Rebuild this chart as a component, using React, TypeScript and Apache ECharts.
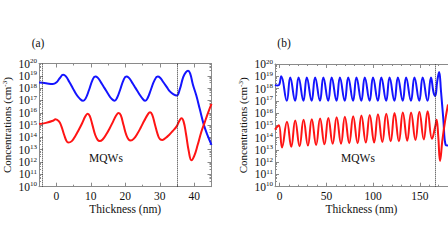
import React, { useEffect, useRef } from "react";
import * as echarts from "echarts";

// ---- Panel (a): thickness (nm) and log10 of concentration (cm^-3)
const leftBlueX = [-5, -3, -1, 0, 1, 2, 2.8, 3.8, 4.8, 5.8, 6.8, 7.8, 8.5, 9.5, 10.5, 11.3, 12, 13, 14, 15, 16, 16.9, 17.6, 18.5, 19.5, 20.3, 21, 22, 23, 24, 25, 25.8, 26.5, 27.4, 28.5, 29.4, 30.1, 31, 32, 33, 34, 34.9, 35.8, 36.8, 37.6, 38.2, 38.8, 39.6, 40.6, 41.6, 42.7, 43.8, 45];
const leftBlueExp = [18.45, 18.4, 18.33, 18.45, 18.8, 19.08, 18.95, 18.5, 18.0, 17.5, 17.15, 16.97, 17.15, 17.85, 18.65, 18.94, 18.85, 18.45, 18.0, 17.55, 17.15, 16.97, 17.2, 17.85, 18.65, 18.94, 18.85, 18.45, 18.0, 17.55, 17.15, 16.97, 17.2, 17.85, 18.65, 18.94, 18.85, 18.5, 18.1, 17.72, 17.5, 17.4, 17.9, 18.9, 19.3, 19.42, 19.2, 18.3, 17.4, 16.3, 15.1, 14.2, 13.4];
const leftRedX = [-5, -3, -1, -0.2, 0.8, 1.5, 2.3, 3.0, 3.5, 4.5, 5.5, 6.5, 7.5, 8.4, 9.1, 9.7, 10.5, 11.3, 12.0, 12.6, 13.5, 14.5, 15.5, 16.5, 17.4, 18.1, 18.7, 19.5, 20.3, 21.0, 21.6, 22.5, 23.5, 24.5, 25.5, 26.5, 27.2, 27.8, 28.6, 29.4, 30.1, 30.8, 31.7, 32.7, 33.7, 34.9, 35.7, 36.3, 36.9, 37.6, 38.4, 39.2, 40.0, 41.0, 42.0, 43.0, 44.0, 45.0];
const leftRedExp = [15.08, 15.18, 15.35, 15.48, 15.3, 14.9, 14.2, 13.7, 13.58, 13.7, 14.1, 14.6, 15.15, 15.7, 15.93, 15.75, 15.0, 14.2, 13.8, 13.7, 13.85, 14.25, 14.75, 15.3, 15.8, 15.98, 15.8, 15.0, 14.2, 13.82, 13.75, 13.9, 14.3, 14.8, 15.35, 15.85, 16.05, 15.85, 15.05, 14.25, 13.85, 13.8, 13.95, 14.2, 14.5, 14.9, 15.35, 15.55, 15.3, 14.3, 12.9, 12.15, 12.5, 13.4, 14.4, 15.2, 16.0, 16.72];
const leftDotted = [-4, 35];

// ---- Panel (b)
const rightBlueX = [-5, -2.5, -0.5, 1.7, 7.6, 11.3, 16.5, 20.2, 25.4, 29.0, 34.2, 37.9, 43.1, 46.7, 51.9, 55.6, 60.8, 64.4, 69.6, 73.3, 78.5, 82.1, 87.3, 91.0, 96.2, 99.8, 105.0, 108.7, 113.9, 117.5, 122.7, 126.4, 131.6, 135.2, 140.4, 144.1, 149.3, 152.9, 158.1, 161.8, 164.5, 166.3, 168.5, 170.5, 172.5, 175.0, 177.5, 180.0];
const rightBlueExp = [18.3, 18.25, 18.3, 19.0, 17.0, 18.9, 17.0, 18.9, 17.0, 18.9, 17.0, 18.9, 17.0, 18.9, 17.0, 18.9, 17.0, 18.9, 17.0, 18.9, 17.0, 18.9, 17.0, 18.9, 17.0, 18.9, 17.0, 18.9, 17.0, 18.9, 17.0, 18.9, 17.0, 18.9, 17.0, 18.9, 17.0, 18.9, 17.0, 18.9, 17.7, 17.4, 18.6, 19.35, 17.8, 15.5, 13.4, 13.35];
const rightRedX = [-5, -3, -0.8, 2.5, 7.8, 12.4, 16.6, 21.3, 25.5, 30.2, 34.3, 39.0, 43.2, 47.9, 52.0, 56.7, 60.9, 65.6, 69.7, 74.4, 78.6, 83.3, 87.4, 92.1, 96.3, 101.0, 105.1, 109.8, 114.0, 118.7, 122.8, 127.5, 131.7, 136.4, 140.5, 145.2, 149.4, 154.1, 158.2, 162.9, 166.3, 167.8, 169.5, 171.5, 174.0, 177.0, 180.0];
const rightRedExp = [14.65, 14.85, 15.0, 13.2, 15.3, 13.25, 15.4, 13.3, 15.45, 13.35, 15.5, 13.4, 15.55, 13.45, 15.6, 13.5, 15.65, 13.5, 15.7, 13.55, 15.75, 13.55, 15.8, 13.6, 15.85, 13.6, 15.9, 13.65, 15.95, 13.7, 16.0, 13.7, 16.05, 13.75, 16.05, 13.8, 16.1, 13.85, 16.15, 13.9, 14.9, 15.45, 14.2, 12.1, 13.8, 15.4, 16.7];
const rightDotted = [166.3];

const leftMajor = [0, 10, 20, 30, 40];
const leftMinor = [-5, 5, 15, 25, 35, 45];
const rightMajor = [0, 50, 100, 150];
const rightMinor = [10, 20, 30, 40, 60, 70, 80, 90, 110, 120, 130, 140, 160, 170];

const panelLabels = ["(a)", "(b)"];
const regionLabel = "MQWs";
const xName = "Thickness (nm)";

const FONT = "Liberation Serif";
const FRAME = "#8a8a8a";
const TEXT = "#111111";
const BLUE = "#1414ff";
const RED = "#ff1414";

const toPairs = (xs: number[], es: number[]) => xs.map((x, i) => [x, Math.pow(10, es[i])]);

function xAxes(gridIndex: number, min: number, max: number, major: number[], minor: number[]) {
  const base = {
    type: "value" as const,
    gridIndex,
    min,
    max,
    splitLine: { show: false },
  };
  return [
    {
      ...base,
      position: "bottom",
      axisLine: { show: true, onZero: false, lineStyle: { color: FRAME, width: 1 } },
      axisTick: { show: true, inside: true, length: 4, customValues: major, lineStyle: { color: FRAME } },
      axisLabel: { show: true, customValues: major, margin: 3, fontSize: 11.5, fontFamily: FONT, color: TEXT },
      name: xName,
      nameLocation: "middle",
      nameGap: 16,
      nameTextStyle: { fontSize: 11.5, fontFamily: FONT, color: TEXT },
    },
    {
      ...base,
      position: "bottom",
      axisLine: { show: false, onZero: false },
      axisTick: { show: true, inside: true, length: 2, customValues: minor, lineStyle: { color: FRAME } },
      axisLabel: { show: false },
    },
    {
      ...base,
      position: "top",
      axisLine: { show: true, onZero: false, lineStyle: { color: FRAME, width: 1 } },
      axisTick: { show: true, inside: true, length: 4, customValues: major, lineStyle: { color: FRAME } },
      axisLabel: { show: false },
    },
    {
      ...base,
      position: "top",
      axisLine: { show: false, onZero: false },
      axisTick: { show: true, inside: true, length: 2, customValues: minor, lineStyle: { color: FRAME } },
      axisLabel: { show: false },
    },
  ];
}

function yAxes(gridIndex: number, showRight: boolean) {
  const base = {
    type: "log" as const,
    logBase: 10,
    gridIndex,
    min: 1e10,
    max: 1e20,
    interval: 1,
    splitLine: { show: false },
    minorTick: { show: true, splitNumber: 5, length: 2, lineStyle: { color: FRAME } },
  };
  return [
    {
      ...base,
      position: "left",
      axisLine: { show: true, onZero: false, lineStyle: { color: FRAME, width: 1 } },
      axisTick: { show: true, inside: true, length: 4, lineStyle: { color: FRAME } },
      axisLabel: {
        show: true,
        showMinLabel: true,
        showMaxLabel: true,
        hideOverlap: false,
        margin: 2,
        formatter: (v: number) => `{b|10}{s|${Math.round(Math.log10(v))}}`,
        rich: {
          b: { fontSize: 11.5, fontFamily: FONT, color: TEXT, lineHeight: 12, verticalAlign: "bottom" },
          s: { fontSize: 7, fontFamily: FONT, color: TEXT, lineHeight: 7, verticalAlign: "top" },
        },
      },
      name: "Concentrations (cm{s|-3})",
      nameLocation: "middle",
      nameGap: 27,
      nameRotate: 90,
      nameTextStyle: {
        fontSize: 11,
        fontFamily: FONT,
        color: TEXT,
        rich: {
          s: { fontSize: 7, fontFamily: FONT, color: TEXT, verticalAlign: "top", lineHeight: 7 },
        },
      },
    },
    {
      ...base,
      show: showRight,
      position: "right",
      axisLine: { show: true, onZero: false, lineStyle: { color: FRAME, width: 1 } },
      axisTick: { show: true, inside: true, length: 4, lineStyle: { color: FRAME } },
      axisLabel: { show: false },
    },
  ];
}

function lineSeries(name: string, data: number[][], color: string, xAxisIndex: number, yAxisIndex: number, dotted?: number[]) {
  return {
    name,
    type: "line",
    xAxisIndex,
    yAxisIndex,
    data,
    smooth: 0.45,
    showSymbol: false,
    symbol: "none",
    lineStyle: { color, width: 2 },
    clip: true,
    markLine: dotted
      ? {
          silent: true,
          symbol: "none",
          label: { show: false },
          lineStyle: { type: "dotted", color: "#333", width: 1 },
          data: dotted.map((x) => ({ xAxis: x })),
        }
      : undefined,
  };
}

export default function App() {
  const ref = useRef<HTMLDivElement>(null);
  useEffect(() => {
    if (!ref.current) return;
    const chart = echarts.init(ref.current, undefined, { renderer: "svg" });
    const textStyle = (text: string, x: number, y: number) => ({
      type: "text",
      x,
      y,
      style: { text, fontFamily: FONT, fontSize: 11.5, fill: TEXT, align: "center", verticalAlign: "middle" },
    });
    const option = {
      animation: false,
      backgroundColor: "#ffffff",
      grid: [
        { left: 37, top: 63.5, width: 174.5, height: 123.2 },
        { left: 275, top: 64, width: 174, height: 122.7 },
      ],
      xAxis: [...xAxes(0, -5, 45, leftMajor, leftMinor), ...xAxes(1, -5, 180, rightMajor, rightMinor)],
      yAxis: [...yAxes(0, true), ...yAxes(1, false)],
      series: [
        lineSeries("n (a)", toPairs(leftBlueX, leftBlueExp), BLUE, 0, 0, leftDotted),
        lineSeries("p (a)", toPairs(leftRedX, leftRedExp), RED, 0, 0),
        lineSeries("n (b)", toPairs(rightBlueX, rightBlueExp), BLUE, 4, 2, rightDotted),
        lineSeries("p (b)", toPairs(rightRedX, rightRedExp), RED, 4, 2),
      ],
      graphic: [
        textStyle(panelLabels[0], 38, 43),
        textStyle(panelLabels[1], 284, 43),
        textStyle(regionLabel, 106, 158),
        textStyle(regionLabel, 358, 158),
      ],
    };
    chart.setOption(option as any);
    return () => chart.dispose();
  }, []);
  return (
    <div
      ref={ref}
      style={{ position: "fixed", left: 0, top: 0, width: 448, height: 252, background: "#fff" }}
    />
  );
}
